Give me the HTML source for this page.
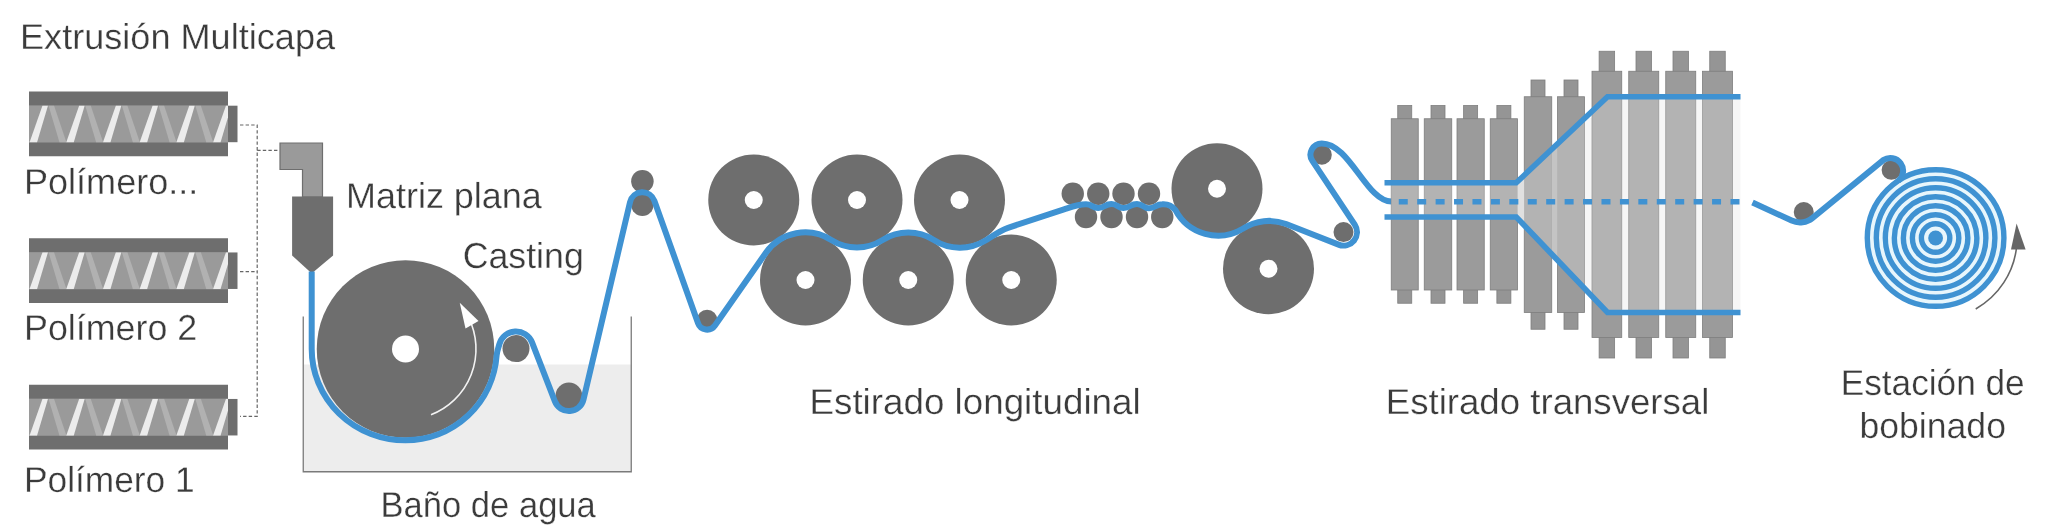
<!DOCTYPE html>
<html lang="es"><head><meta charset="utf-8"><title>Extrusión Multicapa</title>
<style>html,body{margin:0;padding:0;background:#fff;}body{width:2048px;height:528px;overflow:hidden;}svg{display:block;}text{font-family:"Liberation Sans",sans-serif;fill:#3b3b3b;text-rendering:geometricPrecision;stroke:#fff;stroke-width:0.3px;paint-order:fill stroke;}</style>
</head><body>
<svg width="2048" height="528" viewBox="0 0 2048 528">
<rect width="2048" height="528" fill="#ffffff"/>
<g><rect x="29" y="91.5" width="199" height="64.75" fill="#6e6e6e"/><rect x="29" y="105.4" width="199" height="37.1" fill="#9a9a9a"/><clipPath id="c91"><rect x="29" y="105.4" width="199" height="37.1"/></clipPath><g clip-path="url(#c91)"><polygon points="11.8,105.4 17.3,105.4 29.8,142.5 22.8,142.5" fill="#b1b1b1"/><polygon points="48.5,105.4 54,105.4 66.5,142.5 59.5,142.5" fill="#b1b1b1"/><polygon points="85.2,105.4 90.7,105.4 103.2,142.5 96.2,142.5" fill="#b1b1b1"/><polygon points="121.9,105.4 127.4,105.4 139.9,142.5 132.9,142.5" fill="#b1b1b1"/><polygon points="158.6,105.4 164.1,105.4 176.6,142.5 169.6,142.5" fill="#b1b1b1"/><polygon points="195.3,105.4 200.8,105.4 213.3,142.5 206.3,142.5" fill="#b1b1b1"/><polygon points="232,105.4 237.5,105.4 250,142.5 243,142.5" fill="#b1b1b1"/><polygon points="29.5,142.5 37,142.5 48,105.4 42.5,105.4" fill="#ececec"/><polygon points="66.2,142.5 73.7,142.5 84.7,105.4 79.2,105.4" fill="#ececec"/><polygon points="102.9,142.5 110.4,142.5 121.4,105.4 115.9,105.4" fill="#ececec"/><polygon points="139.6,142.5 147.1,142.5 158.1,105.4 152.6,105.4" fill="#ececec"/><polygon points="176.3,142.5 183.8,142.5 194.8,105.4 189.3,105.4" fill="#ececec"/><polygon points="213,142.5 220.5,142.5 231.5,105.4 226,105.4" fill="#ececec"/><polygon points="249.7,142.5 257.2,142.5 268.2,105.4 262.7,105.4" fill="#ececec"/></g><rect x="228" y="105.7" width="9.5" height="36.5" fill="#6e6e6e"/></g>
<g><rect x="29" y="238.25" width="199" height="64.75" fill="#6e6e6e"/><rect x="29" y="252.15" width="199" height="37.1" fill="#9a9a9a"/><clipPath id="c238"><rect x="29" y="252.15" width="199" height="37.1"/></clipPath><g clip-path="url(#c238)"><polygon points="11.8,252.15 17.3,252.15 29.8,289.25 22.8,289.25" fill="#b1b1b1"/><polygon points="48.5,252.15 54,252.15 66.5,289.25 59.5,289.25" fill="#b1b1b1"/><polygon points="85.2,252.15 90.7,252.15 103.2,289.25 96.2,289.25" fill="#b1b1b1"/><polygon points="121.9,252.15 127.4,252.15 139.9,289.25 132.9,289.25" fill="#b1b1b1"/><polygon points="158.6,252.15 164.1,252.15 176.6,289.25 169.6,289.25" fill="#b1b1b1"/><polygon points="195.3,252.15 200.8,252.15 213.3,289.25 206.3,289.25" fill="#b1b1b1"/><polygon points="232,252.15 237.5,252.15 250,289.25 243,289.25" fill="#b1b1b1"/><polygon points="29.5,289.25 37,289.25 48,252.15 42.5,252.15" fill="#ececec"/><polygon points="66.2,289.25 73.7,289.25 84.7,252.15 79.2,252.15" fill="#ececec"/><polygon points="102.9,289.25 110.4,289.25 121.4,252.15 115.9,252.15" fill="#ececec"/><polygon points="139.6,289.25 147.1,289.25 158.1,252.15 152.6,252.15" fill="#ececec"/><polygon points="176.3,289.25 183.8,289.25 194.8,252.15 189.3,252.15" fill="#ececec"/><polygon points="213,289.25 220.5,289.25 231.5,252.15 226,252.15" fill="#ececec"/><polygon points="249.7,289.25 257.2,289.25 268.2,252.15 262.7,252.15" fill="#ececec"/></g><rect x="228" y="252.45" width="9.5" height="36.5" fill="#6e6e6e"/></g>
<g><rect x="29" y="384.75" width="199" height="64.75" fill="#6e6e6e"/><rect x="29" y="398.65" width="199" height="37.1" fill="#9a9a9a"/><clipPath id="c384"><rect x="29" y="398.65" width="199" height="37.1"/></clipPath><g clip-path="url(#c384)"><polygon points="11.8,398.65 17.3,398.65 29.8,435.75 22.8,435.75" fill="#b1b1b1"/><polygon points="48.5,398.65 54,398.65 66.5,435.75 59.5,435.75" fill="#b1b1b1"/><polygon points="85.2,398.65 90.7,398.65 103.2,435.75 96.2,435.75" fill="#b1b1b1"/><polygon points="121.9,398.65 127.4,398.65 139.9,435.75 132.9,435.75" fill="#b1b1b1"/><polygon points="158.6,398.65 164.1,398.65 176.6,435.75 169.6,435.75" fill="#b1b1b1"/><polygon points="195.3,398.65 200.8,398.65 213.3,435.75 206.3,435.75" fill="#b1b1b1"/><polygon points="232,398.65 237.5,398.65 250,435.75 243,435.75" fill="#b1b1b1"/><polygon points="29.5,435.75 37,435.75 48,398.65 42.5,398.65" fill="#ececec"/><polygon points="66.2,435.75 73.7,435.75 84.7,398.65 79.2,398.65" fill="#ececec"/><polygon points="102.9,435.75 110.4,435.75 121.4,398.65 115.9,398.65" fill="#ececec"/><polygon points="139.6,435.75 147.1,435.75 158.1,398.65 152.6,398.65" fill="#ececec"/><polygon points="176.3,435.75 183.8,435.75 194.8,398.65 189.3,398.65" fill="#ececec"/><polygon points="213,435.75 220.5,435.75 231.5,398.65 226,398.65" fill="#ececec"/><polygon points="249.7,435.75 257.2,435.75 268.2,398.65 262.7,398.65" fill="#ececec"/></g><rect x="228" y="398.95" width="9.5" height="36.5" fill="#6e6e6e"/></g>
<g fill="none" stroke="#666" stroke-width="1.2" stroke-dasharray="3.4 2.2">
<path d="M240,125 H257.2 V416.3 H240"/>
<path d="M240,271.6 H257.2"/>
<path d="M257.2,150.4 H279.5"/>
</g>
<path d="M280,143 H322.5 V197 H302.5 V169.5 H280 Z" fill="#9a9a9a" stroke="#6e6e6e" stroke-width="1.2"/>
<path d="M292.1,196.5 H333.1 V255.6 L313.4,272 H310.2 L292.1,255.6 Z" fill="#6e6e6e"/>
<rect x="303.25" y="364.5" width="328" height="107.25" fill="#ededed"/>
<path d="M303.25,316.5 V471.75 H631.25 V316.5" fill="none" stroke="#7a7a7a" stroke-width="1.3"/>
<circle cx="405.5" cy="349" r="88.75" fill="#6e6e6e"/>
<circle cx="405.5" cy="349" r="13.5" fill="#fff"/>
<path d="M430.99,414.73 A70.5,70.5 0 0 0 468.86,318.09" fill="none" stroke="#f2f2f2" stroke-width="1.6"/>
<polygon points="459.75,302.75 478.5,321 465.5,328.5" fill="#fff"/>
<circle cx="516" cy="348.6" r="13.5" fill="#6e6e6e"/>
<circle cx="568.9" cy="396" r="13.4" fill="#6e6e6e"/>
<circle cx="642.4" cy="181.3" r="11.25" fill="#6e6e6e"/>
<circle cx="642.4" cy="205" r="11.1" fill="#6e6e6e"/>
<circle cx="707.1" cy="320" r="10.3" fill="#6e6e6e"/>
<circle cx="753.75" cy="200" r="45.5" fill="#6e6e6e"/>
<circle cx="753.75" cy="200" r="9" fill="#fff"/>
<circle cx="857" cy="200" r="45.5" fill="#6e6e6e"/>
<circle cx="857" cy="200" r="9" fill="#fff"/>
<circle cx="959.5" cy="200" r="45.5" fill="#6e6e6e"/>
<circle cx="959.5" cy="200" r="9" fill="#fff"/>
<circle cx="805.5" cy="280" r="45.5" fill="#6e6e6e"/>
<circle cx="805.5" cy="280" r="9" fill="#fff"/>
<circle cx="908.25" cy="280" r="45.5" fill="#6e6e6e"/>
<circle cx="908.25" cy="280" r="9" fill="#fff"/>
<circle cx="1011.25" cy="280" r="45.5" fill="#6e6e6e"/>
<circle cx="1011.25" cy="280" r="9" fill="#fff"/>
<circle cx="1217" cy="188.75" r="45.5" fill="#6e6e6e"/>
<circle cx="1217" cy="188.75" r="9" fill="#fff"/>
<circle cx="1268.5" cy="268.75" r="45.5" fill="#6e6e6e"/>
<circle cx="1268.5" cy="268.75" r="9" fill="#fff"/>
<circle cx="1072.75" cy="193.75" r="11.2" fill="#6e6e6e"/>
<circle cx="1098.25" cy="193.75" r="11.2" fill="#6e6e6e"/>
<circle cx="1123.5" cy="193.75" r="11.2" fill="#6e6e6e"/>
<circle cx="1149" cy="193.75" r="11.2" fill="#6e6e6e"/>
<circle cx="1086" cy="217" r="11.2" fill="#6e6e6e"/>
<circle cx="1111.5" cy="217" r="11.2" fill="#6e6e6e"/>
<circle cx="1137" cy="217" r="11.2" fill="#6e6e6e"/>
<circle cx="1162.25" cy="217" r="11.2" fill="#6e6e6e"/>
<circle cx="1321.8" cy="154.7" r="10" fill="#6e6e6e"/>
<circle cx="1343.5" cy="232.1" r="10" fill="#6e6e6e"/>
<path d="M311.7,271.6 V349 A93.8,91.35 0 0 0 405.5,440.35 A91.35,91.35 0 0 0 496.63,355.37 C496.91,351.38 498.35,348.01 499.39,344.15 A17.2,17.2 0 0 1 532.04,342.39 L554.91,401.42 A15,15 0 0 0 583.5,399.44 L630.04,202.09 A12.7,12.7 0 0 1 654.36,200.73 L698.06,323.23 A9.6,9.6 0 0 0 714.97,325.5 L766.09,252.43 A48.1,48.1 0 0 1 831.25,240 L831.25,240 A48.1,48.1 0 0 0 882.62,240 L882.62,240 A48.1,48.1 0 0 1 933.88,240 L933.88,240 A48.1,48.1 0 0 0 984.99,240.79 C991.77,236.55 1000.4,230.3 1008,227.8 L1064,209.3 C1072,206.7 1078,204.3 1086,204.3 C1092.12,204.3 1092.12,208 1098.25,208 C1104.88,208 1104.88,204 1111.5,204 C1117.5,204 1117.5,208 1123.5,208 C1130.25,208 1130.25,204 1137,204 C1143,204 1143,208.3 1149,208.3 C1155.62,208.3 1155.62,204.3 1162.25,204.3 A15.3,15.3 0 0 1 1175.46,210.18 L1175.46,210.18 A48.1,48.1 0 0 0 1242.75,228.75 L1242.75,228.75 A48.1,48.1 0 0 1 1286.14,224 L1338.55,244.66 A13.5,13.5 0 0 0 1354.74,224.62 L1312.39,160.96 A11.3,11.3 0 0 1 1321.8,143.4 C1349.8,143.4 1366.5,201.6 1391.5,201.6 H1393" fill="none" stroke="#3f92d2" stroke-width="6" stroke-linejoin="round"/>
<rect x="1397.75" y="105.5" width="14" height="197.75" fill="#959595" stroke="#7e7e7e" stroke-width="0.8"/>
<rect x="1391.25" y="118.75" width="27" height="171.25" fill="#9b9b9b" stroke="#7e7e7e" stroke-width="0.8"/>
<rect x="1431" y="105.5" width="14" height="197.75" fill="#959595" stroke="#7e7e7e" stroke-width="0.8"/>
<rect x="1424.25" y="118.75" width="27.5" height="171.25" fill="#9b9b9b" stroke="#7e7e7e" stroke-width="0.8"/>
<rect x="1463.62" y="105.5" width="14" height="197.75" fill="#959595" stroke="#7e7e7e" stroke-width="0.8"/>
<rect x="1457" y="118.75" width="27.25" height="171.25" fill="#9b9b9b" stroke="#7e7e7e" stroke-width="0.8"/>
<rect x="1496.88" y="105.5" width="14" height="197.75" fill="#959595" stroke="#7e7e7e" stroke-width="0.8"/>
<rect x="1490.25" y="118.75" width="27.25" height="171.25" fill="#9b9b9b" stroke="#7e7e7e" stroke-width="0.8"/>
<rect x="1531" y="80" width="14" height="249.25" fill="#959595" stroke="#7e7e7e" stroke-width="0.8"/>
<rect x="1524.25" y="96.75" width="27.5" height="215.75" fill="#9b9b9b" stroke="#7e7e7e" stroke-width="0.8"/>
<rect x="1564" y="80" width="14" height="249.25" fill="#959595" stroke="#7e7e7e" stroke-width="0.8"/>
<rect x="1557.5" y="96.75" width="27" height="215.75" fill="#9b9b9b" stroke="#7e7e7e" stroke-width="0.8"/>
<rect x="1599.12" y="51.25" width="15.5" height="306.75" fill="#959595" stroke="#7e7e7e" stroke-width="0.8"/>
<rect x="1592" y="71.25" width="29.75" height="266.25" fill="#9b9b9b" stroke="#7e7e7e" stroke-width="0.8"/>
<rect x="1636" y="51.25" width="15.5" height="306.75" fill="#959595" stroke="#7e7e7e" stroke-width="0.8"/>
<rect x="1628.75" y="71.25" width="30" height="266.25" fill="#9b9b9b" stroke="#7e7e7e" stroke-width="0.8"/>
<rect x="1673" y="51.25" width="15.5" height="306.75" fill="#959595" stroke="#7e7e7e" stroke-width="0.8"/>
<rect x="1665.75" y="71.25" width="30" height="266.25" fill="#9b9b9b" stroke="#7e7e7e" stroke-width="0.8"/>
<rect x="1709.75" y="51.25" width="15.5" height="306.75" fill="#959595" stroke="#7e7e7e" stroke-width="0.8"/>
<rect x="1702.5" y="71.25" width="30" height="266.25" fill="#9b9b9b" stroke="#7e7e7e" stroke-width="0.8"/>
<polygon points="1391,182.75 1516.25,182.75 1607.5,96.75 1740.5,96.75 1740.5,312.5 1607.5,312.5 1516.25,217 1391,217" fill="#ffffff" fill-opacity="0.24"/>
<g fill="#000" fill-opacity="0.035"><rect x="1584.5" y="118" width="7.5" height="173"/><rect x="1621.75" y="96.75" width="7" height="215.75"/><rect x="1658.75" y="96.75" width="7" height="215.75"/><rect x="1695.75" y="96.75" width="6.75" height="215.75"/><rect x="1732.5" y="96.75" width="8" height="215.75"/></g>
<polygon points="1551.75,149.5 1557.5,144 1557.5,260 1551.75,254" fill="#c4c4c4"/>
<polygon points="1517.5,181.6 1524.25,175.2 1524.25,225.4 1517.5,218.3" fill="#e0e0e0"/>
<g fill="none" stroke="#3f92d2" stroke-width="5.7" stroke-linejoin="miter">
<path d="M1384.5,182.75 H1516.25 L1607.5,96.75 H1740.5"/>
<path d="M1384.5,217 H1516.25 L1607.5,312.5 H1740.5"/>
<path d="M1398.75,201.75 H1740.5" stroke-dasharray="9 9.43"/>
</g>
<circle cx="1803.75" cy="212" r="10" fill="#6e6e6e"/>
<circle cx="1891.4" cy="170" r="9.8" fill="#6e6e6e"/>
<circle cx="1935.6" cy="238" r="70" fill="#e8f6fc"/>
<g fill="none" stroke="#3f92d2" stroke-width="5.4">
<circle cx="1935.6" cy="238" r="14.2"/>
<circle cx="1935.6" cy="238" r="23.22"/>
<circle cx="1935.6" cy="238" r="32.24"/>
<circle cx="1935.6" cy="238" r="41.26"/>
<circle cx="1935.6" cy="238" r="50.28"/>
<circle cx="1935.6" cy="238" r="59.3"/>
<circle cx="1935.6" cy="238" r="68.32"/>
</g>
<circle cx="1935.6" cy="238" r="7.4" fill="#3f92d2"/>
<path d="M1752.5,202.6 L1791.66,220.58 A20,20 0 0 0 1812.66,217.88 L1883.29,160.09 A12.8,12.8 0 0 1 1898.38,180.73" fill="none" stroke="#3f92d2" stroke-width="6" stroke-linejoin="round"/>
<path d="M1975.73,308.93 A81.5,81.5 0 0 0 2016.65,246.52" fill="none" stroke="#666" stroke-width="1.6"/>
<polygon points="2016.6,223.5 2011,249.4 2025.6,249.4" fill="#666"/>
<g style="filter:grayscale(1)">
<text x="20" y="48.7" font-size="36" textLength="315.06" lengthAdjust="spacingAndGlyphs">Extrusión Multicapa</text>
<text x="24" y="194.45" font-size="36" textLength="174.28" lengthAdjust="spacingAndGlyphs">Polímero...</text>
<text x="24" y="339.7" font-size="36" textLength="173.16" lengthAdjust="spacingAndGlyphs">Polímero 2</text>
<text x="24" y="491.7" font-size="36" textLength="170.69" lengthAdjust="spacingAndGlyphs">Polímero 1</text>
<text x="346" y="208.2" font-size="36" textLength="195.85" lengthAdjust="spacingAndGlyphs">Matriz plana</text>
<text x="462.75" y="267.95" font-size="36" textLength="120.99" lengthAdjust="spacingAndGlyphs">Casting</text>
<text x="380.5" y="516.7" font-size="36" textLength="215.32" lengthAdjust="spacingAndGlyphs">Baño de agua</text>
<text x="809.5" y="414.45" font-size="36" textLength="331.13" lengthAdjust="spacingAndGlyphs">Estirado longitudinal</text>
<text x="1385.75" y="414.45" font-size="36" textLength="323.63" lengthAdjust="spacingAndGlyphs">Estirado transversal</text>
<text x="1840.75" y="395.2" font-size="36" textLength="183.9" lengthAdjust="spacingAndGlyphs">Estación de</text>
<text x="1859.5" y="438.2" font-size="36" textLength="146.43" lengthAdjust="spacingAndGlyphs">bobinado</text>
</g>
</svg></body></html>
